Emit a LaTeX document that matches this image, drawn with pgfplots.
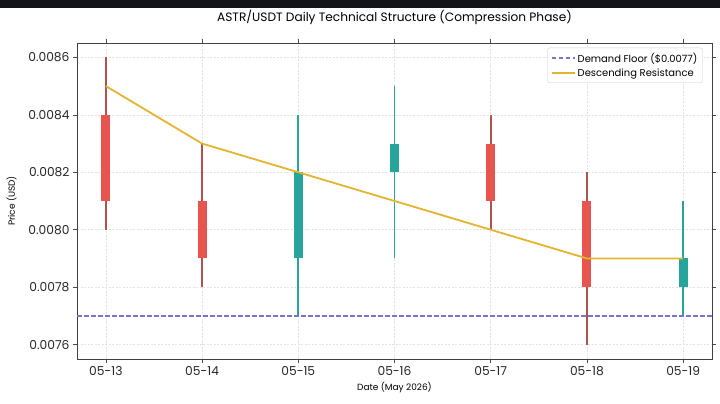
\documentclass[border=0pt]{standalone}
\usepackage{pgfplots}
\pgfplotsset{compat=1.18}
\usepackage{fontspec}
\setmainfont{Poppins}
\definecolor{redc}{HTML}{E8544E}
\definecolor{redw}{HTML}{B0534F}
\definecolor{tealc}{HTML}{26A69A}
\definecolor{goldc}{HTML}{E5B42E}
\definecolor{floorc}{HTML}{7A72CC}
\definecolor{topbar}{HTML}{121419}
\definecolor{gridc}{HTML}{E2E2E2}
\begin{document}
\begin{tikzpicture}[x=1bp,y=1bp]
\path[use as bounding box] (0,0) rectangle (720,403);
\fill[topbar] (0,395) rectangle (720,403);
\begin{axis}[
  at={(77bp,44bp)}, anchor=south west,
  width=635bp, height=316bp, scale only axis,
  xmin=-0.3, xmax=6.3, ymin=0.00755, ymax=0.00865,
  xtick={0,1,2,3,4,5,6},
  xticklabels={05-13,05-14,05-15,05-16,05-17,05-18,05-19},
  ytick={0.0076,0.0078,0.0080,0.0082,0.0084,0.0086},
  scaled y ticks=false,
  yticklabel style={/pgf/number format/.cd, fixed, fixed zerofill, precision=4, assume math mode=true},
  ticklabel style={font=\fontsize{12.3}{14}\selectfont, text=black!85},
  tick style={black!70, line width=0.6bp},
  tick align=outside, major tick length=4bp,
  axis line style={black!75, line width=0.9bp},
  grid=major, grid style={gridc, line width=0.5bp, dash pattern=on 2bp off 1.5bp},
  unbounded coords=jump,
  title={ASTR/USDT Daily Technical Structure (Compression Phase)},
  title style={font=\fontsize{12.2}{15}\selectfont, at={(0.5,1)}, anchor=south, yshift=9bp},
  xlabel={Date (May 2026)},
  ylabel={Price (USD)},
  xlabel style={font=\fontsize{9}{11}\selectfont, yshift=0bp},
  ylabel style={font=\fontsize{9}{11}\selectfont, yshift=5bp},
  legend style={at={(0.985,0.985)}, anchor=north east, draw=black!20, rounded corners=2bp,
    font=\fontsize{10}{12}\selectfont, cells={anchor=west}, inner xsep=3bp, inner ysep=3bp, row sep=1bp},
  legend image code/.code={\draw[#1, line width=2bp] (0bp,0bp) -- (23bp,0bp);},
]
% wicks (red candles)
\addplot[forget plot, redw, line width=1.8bp] coordinates {
  (0,0.0080) (0,0.0086) (0.5,nan)
  (1,0.0078) (1,0.0083) (1.5,nan)
  (4,0.0080) (4,0.0084) (4.5,nan)
  (5,0.0076) (5,0.0082)
};
% wicks (green candles)
\addplot[forget plot, tealc, line width=1.8bp] coordinates {
  (2,0.0077) (2,0.0084) (2.5,nan)
  (3,0.0079) (3,0.0085) (3.5,nan)
  (6,0.0077) (6,0.0081)
};
% bodies (red: open > close)
\addplot[forget plot, redc, line width=9bp, line cap=butt] coordinates {
  (0,0.0084) (0,0.0081) (0.5,nan)
  (1,0.0081) (1,0.0079) (1.5,nan)
  (4,0.0083) (4,0.0081) (4.5,nan)
  (5,0.0081) (5,0.0078)
};
% bodies (green: close > open)
\addplot[forget plot, tealc, line width=9bp, line cap=butt] coordinates {
  (2,0.0079) (2,0.0082) (2.5,nan)
  (3,0.0082) (3,0.0083) (3.5,nan)
  (6,0.0078) (6,0.0079)
};
\addplot[floorc, line width=1.4bp, dash pattern=on 4.5bp off 2.5bp] coordinates {(-0.3,0.0077) (6.3,0.0077)};
\addlegendentry{Demand Floor (\$0.0077)}
\addplot[goldc, line width=1.8bp] coordinates {
  (0,0.0085) (1,0.0083) (2,0.0082) (3,0.0081) (4,0.0080) (5,0.0079) (6,0.0079)
};
\addlegendentry{Descending Resistance}
\end{axis}
\end{tikzpicture}
\end{document}
